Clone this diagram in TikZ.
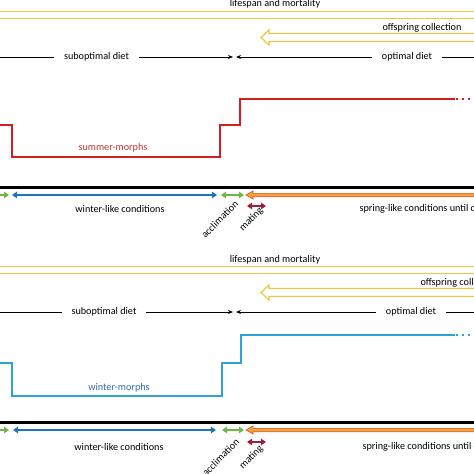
\documentclass[tikz,border=0pt]{standalone}
\usepackage{fontspec}
\setmainfont{Carlito}
\usetikzlibrary{arrows.meta}

\definecolor{lifeyellow}{RGB}{232,200,70}
\definecolor{summerred}{RGB}{210,30,32}
\definecolor{summertext}{RGB}{190,50,50}
\definecolor{winterblue}{RGB}{46,163,213}
\definecolor{wintertext}{RGB}{47,110,168}
\definecolor{condblue}{RGB}{28,118,190}
\definecolor{acclgreen}{RGB}{110,182,72}
\definecolor{springorange}{RGB}{245,162,50}
\definecolor{springedge}{RGB}{205,80,40}
\definecolor{matingred}{RGB}{160,30,60}

\begin{document}
\begin{tikzpicture}[x=1pt,y=-1pt,font=\fontsize{10.2}{12}\selectfont,
  gap/.style={fill=white,inner xsep=10pt,inner ysep=1pt},
  diet/.style={-{Stealth[length=5pt,width=4pt]},line width=0.8pt},
  life/.style={lifeyellow,double=white,double distance=5.8pt,line width=1.2pt},
  hollow/.style={lifeyellow,line width=1.2pt,line join=miter},
  morph/.style={line width=2.6pt,line join=miter},
  morphdots/.style={line width=2.6pt,dash pattern=on 2.4pt off 3.6pt},
  period/.style={line width=2.6pt,{Triangle[length=5pt,width=6.5pt]}-{Triangle[length=5pt,width=6.5pt]}},
  tilted/.style={rotate=45,anchor=east}]

\useasboundingbox (0,0) rectangle (474,474);
\clip (0,0) rectangle (474,474);

% ---------- summer-morphs ----------
\draw[life] (-10,15) -- (484,15);
\node (life1) at (275,4) {lifespan and mortality};

\draw[hollow] (480,33.5) -- (269,33.5) -- (269,30) -- (261,37.5) -- (269,45) -- (269,41.5) -- (480,41.5);
\node[anchor=base] (off1) at (422,30) {offspring collection};

\coordinate (subA1) at (-40,57);
\coordinate (subB1) at (233,57);
\coordinate (optA1) at (578,57);
\coordinate (optB1) at (236,57);
\draw[diet] (subA1) -- node[gap] (sub1) {suboptimal diet} (subB1);
\draw[diet] (optA1) -- node[gap] (opt1) {optimal diet} (optB1);

\draw[morph,summerred] (-5,125) -- (12,125) -- (12,157) -- (220,157) -- (220,125) -- (240,125) -- (240,99) -- (455,99);
\draw[morphdots,summerred] (456,99) -- (476,99);
\node[summertext] (summer) at (113,148) {summer-morphs};

\draw[line width=3pt] (-5,187) -- (479,187);
\draw[acclgreen,line width=2.6pt,-{Triangle[length=5pt,width=6.5pt]}] (-6,195) -- (9,195);
\draw[period,condblue] (12,195) -- (217,195);
\draw[period,acclgreen] (221,195) -- (244,195);
\draw[springedge,fill=springorange,line width=0.6pt] (480,193.3) -- (253,193.3) -- (253,191) -- (246,195) -- (253,199) -- (253,196.7) -- (480,196.7) -- cycle;
\draw[period,matingred] (247,206) -- (266,206);

\node (winter1) at (120,209) {winter-like conditions};
\node[anchor=west] (spring1) at (356,209) {spring-like conditions until death};
\node[tilted] (accl1) at (239,200) {acclimation};
\node[tilted] (mate1) at (264,207) {mating};

% ---------- winter-morphs ----------
\draw[life] (-10,270) -- (484,270);
\node (life2) at (275,260) {lifespan and mortality};

\draw[hollow] (480,288.5) -- (269,288.5) -- (269,285) -- (261,292.5) -- (269,300) -- (269,296.5) -- (480,296.5);
\node[anchor=base west] (off2) at (417,285) {offspring collection};

\coordinate (subA2) at (-25,312);
\coordinate (subB2) at (233,312);
\coordinate (optA2) at (586,312);
\coordinate (optB2) at (236,312);
\draw[diet] (subA2) -- node[gap] (sub2) {suboptimal diet} (subB2);
\draw[diet] (optA2) -- node[gap] (opt2) {optimal diet} (optB2);

\draw[morph,winterblue] (-5,363) -- (12,363) -- (12,396) -- (222,396) -- (222,363) -- (241,363) -- (241,335) -- (455,335);
\draw[morphdots,winterblue] (456,335) -- (476,335);
\node[wintertext] (winter) at (119,388) {winter-morphs};

\draw[line width=3pt] (-5,422) -- (479,422);
\draw[acclgreen,line width=2.6pt,-{Triangle[length=5pt,width=6.5pt]}] (-6,430) -- (9,430);
\draw[period,condblue] (13,430) -- (216,430);
\draw[period,acclgreen] (222,430) -- (244,430);
\draw[springedge,fill=springorange,line width=0.6pt] (480,428.3) -- (253,428.3) -- (253,426) -- (246,430) -- (253,434) -- (253,431.7) -- (480,431.7) -- cycle;
\draw[period,matingred] (247,442) -- (266,442);

\node (winter2) at (119,447) {winter-like conditions};
\node[anchor=west] (spring2) at (359,447) {spring-like conditions until death};
\node[tilted] (accl2) at (240,438) {acclimation};
\node[tilted] (mate2) at (264,445) {mating};
\end{tikzpicture}
\end{document}
